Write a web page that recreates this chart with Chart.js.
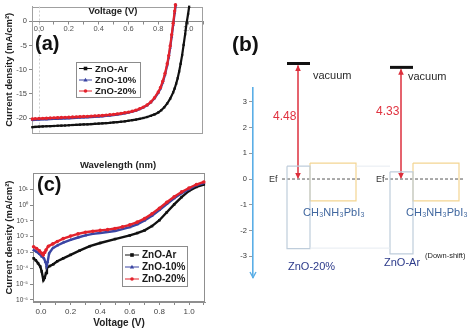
<!DOCTYPE html>
<html><head><meta charset="utf-8">
<script src="https://cdn.jsdelivr.net/npm/chart.js@4.4.0/dist/chart.umd.min.js"></script>
<style>
html,body{margin:0;padding:0;background:#fff;width:474px;height:332px;overflow:hidden}
.p{position:absolute}
</style></head><body>
<div class="p" style="left:0;top:0;width:230px;height:140px"><canvas id="ca"></canvas></div>
<div class="p" style="left:0;top:140px;width:230px;height:192px"><canvas id="cc"></canvas></div>
<div class="p" style="left:230px;top:0;width:244px;height:332px"><canvas id="cb"></canvas></div>
<script>
// ================= DATA =================
const seriesNames = ['ZnO-Ar', 'ZnO-10%', 'ZnO-20%'];

// ---- Panel (a): J–V curves (V in volts, J in mA/cm²)
const vA_Ar = [-0.045,-0.025,0,0.025,0.05,0.075,0.1,0.125,0.15,0.175,0.2,0.225,0.25,0.275,0.3,0.325,0.35,0.375,0.4,0.425,0.45,0.475,0.5,0.525,0.55,0.575,0.6,0.625,0.65,0.675,0.7,0.725,0.75,0.775,0.8,0.82,0.84,0.86,0.88,0.9,0.91,0.92,0.93,0.94,0.95,0.96,0.97,0.98,0.99,1.0,1.007];
const jA_Ar = [-21.9,-21.85,-21.8,-21.75,-21.7,-21.68,-21.65,-21.6,-21.58,-21.55,-21.5,-21.45,-21.42,-21.38,-21.33,-21.3,-21.25,-21.2,-21.15,-21.1,-21.05,-21.0,-20.92,-20.85,-20.77,-20.68,-20.57,-20.45,-20.32,-20.17,-20.0,-19.8,-19.55,-19.25,-18.85,-18.4,-17.8,-17.0,-16.0,-14.7,-13.9,-12.9,-11.8,-10.4,-8.8,-7.0,-4.9,-2.7,-0.4,1.5,3.0];
const vA_10 = [-0.045,-0.025,0,0.025,0.05,0.075,0.1,0.125,0.15,0.175,0.2,0.225,0.25,0.275,0.3,0.325,0.35,0.375,0.4,0.425,0.45,0.475,0.5,0.525,0.55,0.575,0.6,0.625,0.65,0.675,0.7,0.725,0.75,0.775,0.8,0.815,0.83,0.845,0.86,0.87,0.88,0.89,0.9,0.91,0.918];
const jA_10 = [-20.45,-20.4,-20.35,-20.3,-20.27,-20.23,-20.2,-20.17,-20.13,-20.1,-20.06,-20.02,-19.98,-19.94,-19.9,-19.86,-19.82,-19.77,-19.72,-19.66,-19.59,-19.51,-19.42,-19.32,-19.2,-19.06,-18.9,-18.7,-18.47,-18.18,-17.82,-17.36,-16.78,-15.95,-14.8,-13.9,-12.7,-11.1,-9.1,-7.5,-5.5,-3.2,-0.8,1.7,3.4];
const vA_20 = [-0.045,-0.025,0,0.025,0.05,0.075,0.1,0.125,0.15,0.175,0.2,0.225,0.25,0.275,0.3,0.325,0.35,0.375,0.4,0.425,0.45,0.475,0.5,0.525,0.55,0.575,0.6,0.625,0.65,0.675,0.7,0.725,0.75,0.775,0.8,0.815,0.83,0.845,0.86,0.87,0.88,0.89,0.9,0.91,0.915];
const jA_20 = [-20.2,-20.15,-20.1,-20.07,-20.04,-20.0,-19.97,-19.94,-19.9,-19.87,-19.84,-19.8,-19.77,-19.73,-19.7,-19.66,-19.62,-19.58,-19.53,-19.47,-19.4,-19.33,-19.25,-19.15,-19.05,-18.92,-18.78,-18.6,-18.38,-18.1,-17.75,-17.3,-16.7,-15.8,-14.6,-13.7,-12.4,-10.8,-8.8,-7.1,-5.1,-2.8,-0.4,2.1,3.4];
const xTicksA = [0, 0.2, 0.4, 0.6, 0.8, 1.0];
const xLabelsA = ['0.0', '0.2', '0.4', '0.6', '0.8', '1.0'];
const yTicksA = [0, -5, -10, -15, -20];

// ---- Panel (c): dark J–V, log scale (mA/cm²)
const vC_Ar = [-0.05,-0.035,-0.02,-0.005,0.005,0.016,0.025,0.034,0.04,0.06,0.083,0.11,0.15,0.2,0.26,0.33,0.4,0.5,0.6,0.65,0.7,0.75,0.8,0.85,0.9,0.95,1.0,1.05,1.1];
const jC_Ar = [4.3e-4,3.2e-4,2.1e-4,1.3e-4,6.3e-5,1.8e-5,2.5e-5,5.0e-5,1.1e-4,1.4e-4,1.8e-4,2.8e-4,4.3e-4,7.1e-4,1.3e-3,2.5e-3,4.0e-3,7.1e-3,1.2e-2,1.7e-2,2.5e-2,4.7e-2,0.11,0.35,1.1,3.2,7.9,14,20];
const vC_10 = [-0.05,-0.03,-0.01,0.005,0.02,0.03,0.038,0.045,0.055,0.08,0.11,0.15,0.2,0.25,0.3,0.35,0.4,0.45,0.5,0.55,0.6,0.65,0.7,0.75,0.8,0.85,0.9,0.95,1.0,1.05,1.1];
const jC_10 = [1.45e-3,1.1e-3,7.9e-4,5.6e-4,4.3e-4,2.5e-4,1.4e-4,2.5e-4,8.9e-4,1.9e-3,2.8e-3,4.2e-3,6.3e-3,8.9e-3,1.2e-2,1.5e-2,1.7e-2,2.0e-2,2.3e-2,3.0e-2,4.0e-2,6.0e-2,0.105,0.21,0.48,1.17,2.7,5.6,10,18,25];
const vC_20 = [-0.05,-0.03,-0.01,0.005,0.015,0.025,0.034,0.05,0.08,0.11,0.15,0.2,0.25,0.3,0.35,0.4,0.45,0.5,0.55,0.6,0.65,0.7,0.75,0.8,0.85,0.9,0.95,1.0,1.05,1.1];
const jC_20 = [2.3e-3,1.8e-3,1.26e-3,8.9e-4,6.9e-4,1.0e-3,1.45e-3,2.5e-3,3.5e-3,5.0e-3,7.6e-3,1.1e-2,1.5e-2,1.9e-2,2.2e-2,2.5e-2,2.8e-2,3.3e-2,4.2e-2,5.6e-2,8.3e-2,0.14,0.28,0.63,1.5,3.4,6.8,12,20,29];
const xTicksC = [0, 0.2, 0.4, 0.6, 0.8, 1.0];
const xLabelsC = ['0.0', '0.2', '0.4', '0.6', '0.8', '1.0'];
const yTicksC = [1e-6, 1e-5, 1e-4, 1e-3, 1e-2, 1e-1, 1e0, 1e1];
const yLabelsC = ['10⁻⁶', '10⁻⁵', '10⁻⁴', '10⁻³', '10⁻²', '10⁻¹', '10⁰', '10¹'];

// ---- Panel (b): energy levels (eV, relative to Ef = 0)
const bDevices = ['ZnO-20%', 'ZnO-Ar'];
const vacuumLevel = [4.48, 4.33];
const vacuumLabels = ['4.48', '4.33'];
const znoTop = [0.5, 0.28];
const znoBottom = [-2.7, -2.9];
const pvkTop = [0.62, 0.62];
const pvkBottom = [-0.85, -0.85];
const efLevel = 0;
const yTicksB = [3, 2, 1, 0, -1, -2, -3];

// ================= STYLE / HELPERS =================
const FONT = "Arial, 'Liberation Sans', Helvetica, sans-serif";
Chart.defaults.font.family = FONT;
const COLORS = ['#111111', '#3a45a3', '#e3222c'];
const STYLES = ['rect', 'triangle', 'circle'];
function pts(xs, ys) { return xs.map((x, i) => ({ x: x, y: ys[i] })); }

function drawMarker(ctx, style, x, y, r, color) {
  ctx.save(); ctx.fillStyle = color; ctx.beginPath();
  if (style === 'rect') ctx.rect(x - r, y - r, 2 * r, 2 * r);
  else if (style === 'triangle') { ctx.moveTo(x, y - r * 1.3); ctx.lineTo(x + r * 1.2, y + r * 0.8); ctx.lineTo(x - r * 1.2, y + r * 0.8); ctx.closePath(); }
  else ctx.arc(x, y, r, 0, Math.PI * 2);
  ctx.fill(); ctx.restore();
}
function drawLegend(chart, bx, by, bw, bh, rows, lx0, lx1, tx, fs) {
  const ctx = chart.ctx;
  ctx.save();
  ctx.fillStyle = '#fff'; ctx.fillRect(bx, by, bw, bh);
  ctx.strokeStyle = '#8c8c8c'; ctx.lineWidth = 1; ctx.strokeRect(bx + 0.5, by + 0.5, bw, bh);
  chart.data.datasets.forEach((ds, i) => {
    const y = rows[i];
    ctx.strokeStyle = ds.borderColor; ctx.lineWidth = 1;
    ctx.beginPath(); ctx.moveTo(lx0, y); ctx.lineTo(lx1, y); ctx.stroke();
    drawMarker(ctx, ds.pointStyle, (lx0 + lx1) / 2, y, 1.8, ds.borderColor);
    ctx.fillStyle = '#1a1a1a'; ctx.font = 'bold ' + fs + 'px ' + FONT;
    ctx.textAlign = 'left'; ctx.textBaseline = 'middle';
    ctx.fillText(ds.label, tx, y + 0.5);
  });
  ctx.restore();
}
function frame(chart, color) {
  const { ctx, chartArea: ca } = chart;
  ctx.save(); ctx.strokeStyle = color; ctx.lineWidth = 1;
  ctx.strokeRect(Math.round(ca.left) + 0.5, Math.round(ca.top) + 0.5, Math.round(ca.width) - 1, Math.round(ca.height) - 1);
  ctx.restore();
}
function text(ctx, s, x, y, font, color, align) {
  ctx.font = font; ctx.fillStyle = color; ctx.textAlign = align || 'left'; ctx.textBaseline = 'middle';
  ctx.fillText(s, x, y);
}
function lineDs(label, data, color, width, dash) {
  return { label: label, data: data, showLine: true, borderColor: color, backgroundColor: color, borderWidth: width,
           borderDash: dash || [], pointRadius: 0, pointHoverRadius: 0, fill: false, tension: 0, clip: false };
}
function markDs(i, data, r, w) {
  return { label: seriesNames[i], data: data, showLine: true, borderColor: COLORS[i], backgroundColor: COLORS[i],
           pointStyle: STYLES[i], pointRadius: r, pointBorderWidth: 0, borderWidth: w, tension: 0, clip: false, order: 2 - i };
}

// ================= PANEL (a) =================
const annoA = {
  id: 'annoA',
  beforeDatasetsDraw(chart) {
    const { ctx, chartArea: ca, scales: { x } } = chart;
    frame(chart, '#a0a0a0');
    const x0 = Math.round(x.getPixelForValue(0)) + 0.5;
    ctx.save(); ctx.strokeStyle = '#cfcfcf'; ctx.lineWidth = 1; ctx.setLineDash([2, 2]);
    ctx.beginPath(); ctx.moveTo(x0, ca.top); ctx.lineTo(x0, ca.bottom); ctx.stroke(); ctx.restore();
  },
  afterDraw(chart) {
    const ctx = chart.ctx;
    ctx.save();
    text(ctx, 'Voltage (V)', 113, 11.5, 'bold 9.5px ' + FONT, '#222', 'center');
    text(ctx, '(a)', 35, 44, 'bold 20px ' + FONT, '#111');
    ctx.restore();
    drawLegend(chart, 76, 62, 64, 35, [68.5, 80, 91], 79, 92, 95, 9.5);
  }
};
new Chart(document.getElementById('ca'), {
  type: 'scatter',
  data: { datasets: [ markDs(0, pts(vA_Ar, jA_Ar), 1.6, 2.2), markDs(1, pts(vA_10, jA_10), 1.8, 2.2), markDs(2, pts(vA_20, jA_20), 1.7, 2.2) ] },
  options: {
    animation: false, responsive: true, maintainAspectRatio: false, events: [],
    layout: { padding: { left: 0, right: 27, top: 5, bottom: 7 } },
    plugins: { legend: { display: false }, tooltip: { enabled: false } },
    scales: {
      x: { type: 'linear', min: -0.047, max: 1.1, position: { y: 0 },
           afterBuildTicks(s) { const t = []; for (let k = 0; k <= 11; k++) t.push({ value: k / 10 }); s.ticks = t; },
           ticks: { autoSkip: false, maxRotation: 0, padding: 1, font: { size: 7.5 }, color: '#555',
                    callback(v) { const i = xTicksA.findIndex(t => Math.abs(t - v) < 1e-6); return i >= 0 ? xLabelsA[i] : ''; } },
           grid: { drawOnChartArea: false, tickLength: 2.5, color: '#888' },
           border: { color: '#8a8a8a', width: 1 } },
      y: { type: 'linear', min: -23.1, max: 3.05, position: 'left',
           afterFit(s) { s.width = 32; },
           afterBuildTicks(s) { s.ticks = yTicksA.map(v => ({ value: v })); },
           ticks: { font: { size: 7.5 }, color: '#444', padding: 2 },
           grid: { drawOnChartArea: false, tickLength: 3, color: '#888' },
           border: { color: '#a0a0a0' },
           title: { display: true, text: 'Current density (mA/cm²)', font: { size: 9.5, weight: 'bold' }, color: '#222', padding: { top: 4, bottom: 0 } } }
    }
  },
  plugins: [annoA]
});

// ================= PANEL (c) =================
const annoC = {
  id: 'annoC',
  beforeDatasetsDraw(chart) { frame(chart, '#8f8f8f'); },
  afterDraw(chart) {
    const ctx = chart.ctx;
    ctx.save();
    text(ctx, 'Wavelength (nm)', 118, 25, 'bold 9.5px ' + FONT, '#222', 'center');
    text(ctx, '(c)', 37, 45, 'bold 20px ' + FONT, '#111');
    ctx.restore();
    drawLegend(chart, 122, 106, 65, 40, [115, 127, 139], 125, 139, 142, 10);
  }
};
new Chart(document.getElementById('cc'), {
  type: 'scatter',
  data: { datasets: [ markDs(0, pts(vC_Ar, jC_Ar), 1.8, 2.4), markDs(1, pts(vC_10, jC_10), 1.9, 2.4), markDs(2, pts(vC_20, jC_20), 1.8, 2.4) ] },
  options: {
    animation: false, responsive: true, maintainAspectRatio: false, events: [],
    layout: { padding: { left: 0, right: 25, top: 33, bottom: 0 } },
    plugins: { legend: { display: false }, tooltip: { enabled: false } },
    scales: {
      x: { type: 'linear', min: -0.054, max: 1.108, position: 'bottom',
           afterFit(s) { s.height = 30; },
           afterBuildTicks(s) { const t = []; for (let k = 0; k <= 11; k++) t.push({ value: k / 10 }); s.ticks = t; },
           ticks: { autoSkip: false, maxRotation: 0, padding: 2, font: { size: 8 }, color: '#444',
                    callback(v) { const i = xTicksC.findIndex(t => Math.abs(t - v) < 1e-6); return i >= 0 ? xLabelsC[i] : ''; } },
           grid: { drawOnChartArea: false, tickLength: 3, color: '#888' },
           border: { color: '#8f8f8f' },
           title: { display: true, text: 'Voltage (V)', font: { size: 10, weight: 'bold' }, color: '#222', padding: { top: 0, bottom: 3 } } },
      y: { type: 'logarithmic', min: 7.4e-7, max: 107, position: 'left',
           afterFit(s) { s.width = 33; },
           afterBuildTicks(s) { s.ticks = yTicksC.map(v => ({ value: v })); },
           ticks: { autoSkip: false, font: { size: 6.5 }, color: '#444', padding: 2,
                    callback(v) { const i = yTicksC.findIndex(t => Math.abs(Math.log10(t) - Math.log10(v)) < 1e-6); return i >= 0 ? yLabelsC[i] : ''; } },
           grid: { drawOnChartArea: false, tickLength: 3, color: '#888' },
           border: { color: '#8f8f8f' },
           title: { display: true, text: 'Current density (mA/cm²)', font: { size: 9.5, weight: 'bold' }, color: '#222', padding: { top: 4, bottom: 0 } } }
    }
  },
  plugins: [annoC]
});

// ================= PANEL (b) =================
// horizontal placement of the two device columns (diagram x-units)
const colX = [34, 137];
const znoW = 23, pvkW = 46, arrowOff = 11;
function seg(x0, y0, x1, y1) { return [{ x: x0, y: y0 }, { x: x1, y: y1 }]; }
function rectPts(x0, x1, y0, y1) { return [{ x: x0, y: y0 }, { x: x1, y: y0 }, { x: x1, y: y1 }, { x: x0, y: y1 }, { x: x0, y: y0 }]; }
const bSets = [];
bSets.push(lineDs('link-top', seg(colX[0] + znoW + pvkW, znoTop[0], colX[1], znoTop[0]), '#e6ebf1', 1));
bSets.push(lineDs('link-bottom', seg(colX[0] + znoW, znoBottom[0] + 0.02, colX[1], znoBottom[0] + 0.02), '#e6ebf1', 1));
for (let i = 0; i < 2; i++) {
  bSets.push(lineDs(bDevices[i] + ' box', rectPts(colX[i], colX[i] + znoW, znoTop[i], znoBottom[i]), '#bfcddb', 1.2));
  bSets.push(lineDs('CH3NH3PbI3 box ' + i, rectPts(colX[i] + znoW, colX[i] + znoW + pvkW, pvkTop[i], pvkBottom[i]), '#f3d592', 1.2));
  bSets.push(lineDs('Ef ' + i, seg(colX[i] - 5, efLevel, colX[i] + znoW + pvkW + 4, efLevel), '#555', 1, [3, 2]));
  bSets.push(lineDs('vacuum ' + i, seg(colX[i], vacuumLevel[i], colX[i] + znoW, vacuumLevel[i]), '#111', 3));
  bSets.push(lineDs('WF ' + i, seg(colX[i] + arrowOff, efLevel + 0.06, colX[i] + arrowOff, vacuumLevel[i] - 0.08), '#dc2f3c', 1.5));
}
function arrowHead(ctx, x, y, dir, color, len, half) {
  ctx.fillStyle = color; ctx.beginPath();
  ctx.moveTo(x, y); ctx.lineTo(x - half, y - dir * len); ctx.lineTo(x + half, y - dir * len); ctx.closePath(); ctx.fill();
}
const annoB = {
  id: 'annoB',
  afterDraw(chart) {
    const { ctx, chartArea: ca, scales: { x, y } } = chart;
    ctx.save();
    for (let i = 0; i < 2; i++) {
      const ax = x.getPixelForValue(colX[i] + arrowOff);
      arrowHead(ctx, ax, y.getPixelForValue(efLevel), 1, '#dc2f3c', 6, 2.8);
      arrowHead(ctx, ax, y.getPixelForValue(vacuumLevel[i]) + 1.5, -1, '#dc2f3c', 6, 2.8);
    }
    ctx.strokeStyle = '#5aaee6'; ctx.lineWidth = 1.4; ctx.beginPath();
    ctx.moveTo(ca.left - 3, ca.bottom - 5); ctx.lineTo(ca.left, ca.bottom + 0.5); ctx.lineTo(ca.left + 3, ca.bottom - 5); ctx.stroke();
    text(ctx, '(b)', 2, 45, 'bold 21px ' + FONT, '#111');
    text(ctx, 'vacuum', 83, 76, '11px ' + FONT, '#2a2a2a');
    text(ctx, 'vacuum', 178, 77, '11px ' + FONT, '#2a2a2a');
    text(ctx, vacuumLabels[0], 43, 117, '12px ' + FONT, '#e0323f');
    text(ctx, vacuumLabels[1], 146, 112, '12px ' + FONT, '#e0323f');
    const ey = y.getPixelForValue(efLevel);
    text(ctx, 'Ef', 39, ey, '9px ' + FONT, '#333');
    text(ctx, 'Ef', 146, ey, '9px ' + FONT, '#333');
    text(ctx, 'CH₃NH₃PbI₃', 73, 213, '11px ' + FONT, '#40679f');
    text(ctx, 'CH₃NH₃PbI₃', 176, 213, '11px ' + FONT, '#40679f');
    text(ctx, bDevices[0], 58, 267, '11px ' + FONT, '#2c3a8a');
    text(ctx, bDevices[1], 154, 263, '11px ' + FONT, '#2c3a8a');
    text(ctx, '(Down-shift)', 195, 256, '7.5px ' + FONT, '#222');
    ctx.restore();
  }
};
new Chart(document.getElementById('cb'), {
  type: 'scatter',
  data: { datasets: bSets },
  options: {
    animation: false, responsive: true, maintainAspectRatio: false, events: [],
    layout: { padding: { left: 0, right: 4, top: 88, bottom: 55 } },
    plugins: { legend: { display: false }, tooltip: { enabled: false } },
    scales: {
      x: { type: 'linear', display: false, min: 0, max: 217 },
      y: { type: 'linear', min: -3.8, max: 3.53, position: 'left',
           afterFit(s) { s.width = 23; },
           afterBuildTicks(s) { s.ticks = yTicksB.map(v => ({ value: v })); },
           ticks: { font: { size: 7.5 }, color: '#333', padding: 2 },
           grid: { drawOnChartArea: false, tickLength: 4, color: '#9a9a9a' },
           border: { color: '#5aaee6', width: 1.6 } }
    }
  },
  plugins: [annoB]
});
</script>
</body></html>
